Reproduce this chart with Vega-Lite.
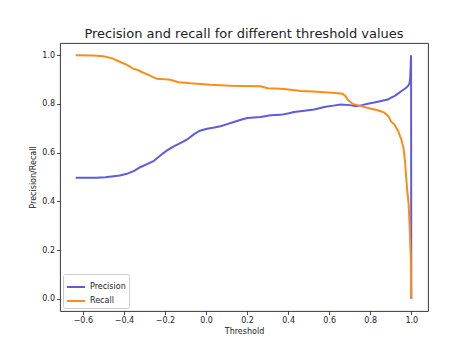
{
  "$schema": "https://vega.github.io/schema/vega-lite/v6.json",
  "width": 368,
  "height": 268,
  "autosize": "none",
  "padding": {"left": 60, "top": 43, "right": 46, "bottom": 44},
  "background": "white",
  "config": {
    "font": "DejaVu Sans",
    "view": {"stroke": "#222", "strokeWidth": 0.9},
    "axis": {"grid": false, "domain": false, "tickColor": "#222", "tickSize": 3.5, "tickWidth": 0.8, "labelFontSize": 8, "labelColor": "#222", "labelPadding": 2, "titleFontSize": 8, "titleFontWeight": "normal", "titleColor": "#222"}
  },
  "title": {"text": "Precision and recall for different threshold values", "fontSize": 13, "fontWeight": "normal", "color": "#222", "baseline": "alphabetic", "offset": -8, "anchor": "middle"},
  "data": {"values": [
    {"t": -0.635, "v": 0.497, "s": "Precision"},
    {"t": -0.58, "v": 0.497, "s": "Precision"},
    {"t": -0.533, "v": 0.497, "s": "Precision"},
    {"t": -0.49, "v": 0.499, "s": "Precision"},
    {"t": -0.46, "v": 0.502, "s": "Precision"},
    {"t": -0.42, "v": 0.506, "s": "Precision"},
    {"t": -0.386, "v": 0.513, "s": "Precision"},
    {"t": -0.35, "v": 0.525, "s": "Precision"},
    {"t": -0.321, "v": 0.54, "s": "Precision"},
    {"t": -0.29, "v": 0.552, "s": "Precision"},
    {"t": -0.256, "v": 0.565, "s": "Precision"},
    {"t": -0.22, "v": 0.59, "s": "Precision"},
    {"t": -0.19, "v": 0.609, "s": "Precision"},
    {"t": -0.16, "v": 0.625, "s": "Precision"},
    {"t": -0.125, "v": 0.639, "s": "Precision"},
    {"t": -0.09, "v": 0.655, "s": "Precision"},
    {"t": -0.06, "v": 0.675, "s": "Precision"},
    {"t": -0.03, "v": 0.69, "s": "Precision"},
    {"t": 0.005, "v": 0.698, "s": "Precision"},
    {"t": 0.04, "v": 0.703, "s": "Precision"},
    {"t": 0.07, "v": 0.708, "s": "Precision"},
    {"t": 0.1, "v": 0.716, "s": "Precision"},
    {"t": 0.135, "v": 0.726, "s": "Precision"},
    {"t": 0.17, "v": 0.735, "s": "Precision"},
    {"t": 0.201, "v": 0.742, "s": "Precision"},
    {"t": 0.233, "v": 0.744, "s": "Precision"},
    {"t": 0.266, "v": 0.746, "s": "Precision"},
    {"t": 0.315, "v": 0.753, "s": "Precision"},
    {"t": 0.364, "v": 0.755, "s": "Precision"},
    {"t": 0.404, "v": 0.762, "s": "Precision"},
    {"t": 0.429, "v": 0.767, "s": "Precision"},
    {"t": 0.48, "v": 0.772, "s": "Precision"},
    {"t": 0.527, "v": 0.777, "s": "Precision"},
    {"t": 0.576, "v": 0.787, "s": "Precision"},
    {"t": 0.62, "v": 0.793, "s": "Precision"},
    {"t": 0.657, "v": 0.798, "s": "Precision"},
    {"t": 0.7, "v": 0.795, "s": "Precision"},
    {"t": 0.731, "v": 0.79, "s": "Precision"},
    {"t": 0.76, "v": 0.795, "s": "Precision"},
    {"t": 0.788, "v": 0.801, "s": "Precision"},
    {"t": 0.82, "v": 0.806, "s": "Precision"},
    {"t": 0.853, "v": 0.812, "s": "Precision"},
    {"t": 0.886, "v": 0.818, "s": "Precision"},
    {"t": 0.902, "v": 0.826, "s": "Precision"},
    {"t": 0.92, "v": 0.833, "s": "Precision"},
    {"t": 0.935, "v": 0.842, "s": "Precision"},
    {"t": 0.951, "v": 0.852, "s": "Precision"},
    {"t": 0.965, "v": 0.86, "s": "Precision"},
    {"t": 0.975, "v": 0.866, "s": "Precision"},
    {"t": 0.985, "v": 0.875, "s": "Precision"},
    {"t": 0.992, "v": 0.886, "s": "Precision"},
    {"t": 0.995, "v": 0.91, "s": "Precision"},
    {"t": 0.997, "v": 0.95, "s": "Precision"},
    {"t": 0.999, "v": 1.0, "s": "Precision"},
    {"t": 1.0, "v": 0.0, "s": "Precision"},
    {"t": -0.635, "v": 1.0, "s": "Recall"},
    {"t": -0.55, "v": 0.999, "s": "Recall"},
    {"t": -0.5, "v": 0.996, "s": "Recall"},
    {"t": -0.46, "v": 0.988, "s": "Recall"},
    {"t": -0.42, "v": 0.973, "s": "Recall"},
    {"t": -0.385, "v": 0.96, "s": "Recall"},
    {"t": -0.355, "v": 0.945, "s": "Recall"},
    {"t": -0.33, "v": 0.938, "s": "Recall"},
    {"t": -0.305, "v": 0.928, "s": "Recall"},
    {"t": -0.27, "v": 0.915, "s": "Recall"},
    {"t": -0.24, "v": 0.903, "s": "Recall"},
    {"t": -0.2, "v": 0.901, "s": "Recall"},
    {"t": -0.174, "v": 0.899, "s": "Recall"},
    {"t": -0.134, "v": 0.889, "s": "Recall"},
    {"t": -0.1, "v": 0.887, "s": "Recall"},
    {"t": -0.077, "v": 0.885, "s": "Recall"},
    {"t": -0.03, "v": 0.882, "s": "Recall"},
    {"t": 0.02, "v": 0.879, "s": "Recall"},
    {"t": 0.07, "v": 0.877, "s": "Recall"},
    {"t": 0.12, "v": 0.875, "s": "Recall"},
    {"t": 0.18, "v": 0.874, "s": "Recall"},
    {"t": 0.266, "v": 0.872, "s": "Recall"},
    {"t": 0.3, "v": 0.864, "s": "Recall"},
    {"t": 0.364, "v": 0.862, "s": "Recall"},
    {"t": 0.413, "v": 0.858, "s": "Recall"},
    {"t": 0.462, "v": 0.853, "s": "Recall"},
    {"t": 0.52, "v": 0.851, "s": "Recall"},
    {"t": 0.576, "v": 0.848, "s": "Recall"},
    {"t": 0.63, "v": 0.845, "s": "Recall"},
    {"t": 0.666, "v": 0.842, "s": "Recall"},
    {"t": 0.68, "v": 0.832, "s": "Recall"},
    {"t": 0.69, "v": 0.818, "s": "Recall"},
    {"t": 0.715, "v": 0.8, "s": "Recall"},
    {"t": 0.755, "v": 0.791, "s": "Recall"},
    {"t": 0.8, "v": 0.781, "s": "Recall"},
    {"t": 0.837, "v": 0.774, "s": "Recall"},
    {"t": 0.869, "v": 0.764, "s": "Recall"},
    {"t": 0.89, "v": 0.748, "s": "Recall"},
    {"t": 0.902, "v": 0.727, "s": "Recall"},
    {"t": 0.918, "v": 0.715, "s": "Recall"},
    {"t": 0.935, "v": 0.69, "s": "Recall"},
    {"t": 0.951, "v": 0.655, "s": "Recall"},
    {"t": 0.962, "v": 0.62, "s": "Recall"},
    {"t": 0.97, "v": 0.56, "s": "Recall"},
    {"t": 0.975, "v": 0.5, "s": "Recall"},
    {"t": 0.981, "v": 0.44, "s": "Recall"},
    {"t": 0.987, "v": 0.39, "s": "Recall"},
    {"t": 0.992, "v": 0.3, "s": "Recall"},
    {"t": 0.997, "v": 0.184, "s": "Recall"},
    {"t": 0.999, "v": 0.08, "s": "Recall"},
    {"t": 1.0, "v": 0.0, "s": "Recall"}
  ]},
  "mark": {"type": "line", "strokeWidth": 2, "clip": true},
  "encoding": {
    "x": {"field": "t", "type": "quantitative", "scale": {"domain": [-0.7115, 1.0815], "nice": false, "zero": false}, "axis": {"title": "Threshold", "values": [-0.6, -0.4, -0.2, 0.0, 0.2, 0.4, 0.6, 0.8, 1.0], "format": ".1f", "titlePadding": 3}},
    "y": {"field": "v", "type": "quantitative", "scale": {"domain": [-0.05, 1.05], "nice": false, "zero": false}, "axis": {"title": "Precision/Recall", "values": [0.0, 0.2, 0.4, 0.6, 0.8, 1.0], "format": ".1f", "titlePadding": 4}},
    "color": {"field": "s", "type": "nominal", "scale": {"domain": ["Precision", "Recall"], "range": ["#5c5cdc", "#fb8c1a"]}, "legend": {"title": null, "orient": "bottom-left", "offset": 3, "symbolType": "stroke", "symbolSize": 324, "symbolStrokeWidth": 2, "labelFontSize": 8, "labelColor": "#222", "fillColor": "white", "strokeColor": "#ccc", "cornerRadius": 2, "padding": 3, "rowPadding": -6}},
    "order": {"field": "t", "type": "quantitative"}
  }
}
